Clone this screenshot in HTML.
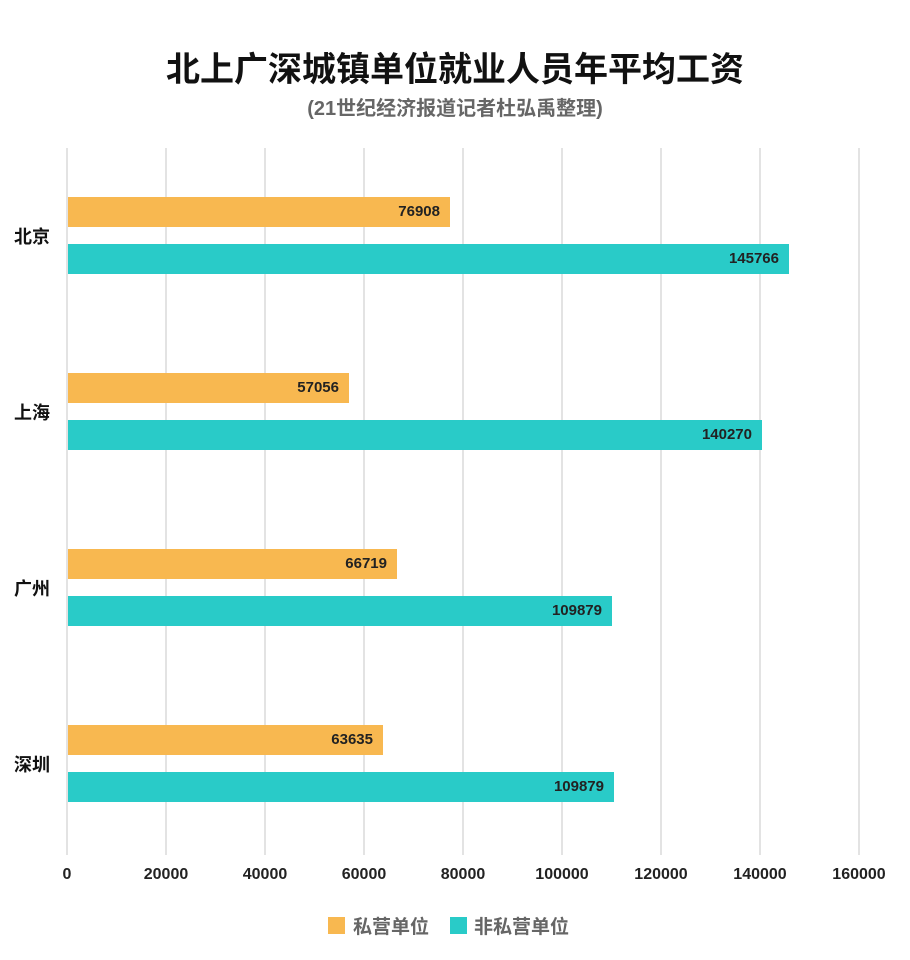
<!DOCTYPE html>
<html><head><meta charset="utf-8"><style>
body{margin:0;width:910px;height:960px;background:#fff;position:relative;overflow:hidden;font-family:"Liberation Sans","Noto Sans CJK SC",sans-serif}
.a{position:absolute}
.g{position:absolute;top:148px;height:707px;width:2px;background:#e3e3e3}
.o{position:absolute;left:68px;height:30px;background:#f8b850}
.t{position:absolute;left:68px;height:30px;background:#29cbc8}
.v{position:absolute;right:10px;top:6px;font-size:15px;font-weight:bold;color:#222}
.c{position:absolute;left:14px;font-size:18px;font-weight:bold;color:#111}
.x{position:absolute;top:866px;width:100px;margin-left:-50px;text-align:center;font-size:16px;font-weight:bold;color:#222}
</style></head><body>
<div class="a" style="left:0;width:910px;top:42px;text-align:center;font-size:34px;font-weight:bold;color:#111">北上广深城镇单位就业人员年平均工资</div>
<div class="a" style="left:0;width:910px;top:92px;text-align:center;font-size:20px;font-weight:bold;color:#666">(21世纪经济报道记者杜弘禹整理)</div>
<div class="g" style="left:66px"></div><div class="g" style="left:165px"></div><div class="g" style="left:264px"></div><div class="g" style="left:363px"></div><div class="g" style="left:462px"></div><div class="g" style="left:561px"></div><div class="g" style="left:660px"></div><div class="g" style="left:759px"></div><div class="g" style="left:858px"></div>
<div class="x" style="left:67px">0</div><div class="x" style="left:166px">20000</div><div class="x" style="left:265px">40000</div><div class="x" style="left:364px">60000</div><div class="x" style="left:463px">80000</div><div class="x" style="left:562px">100000</div><div class="x" style="left:661px">120000</div><div class="x" style="left:760px">140000</div><div class="x" style="left:859px">160000</div>
<div class="c" style="top:223px">北京</div>
<div class="o" style="top:197px;width:382px"><span class="v">76908</span></div>
<div class="t" style="top:244px;width:721px"><span class="v">145766</span></div>
<div class="c" style="top:399px">上海</div>
<div class="o" style="top:373px;width:281px"><span class="v">57056</span></div>
<div class="t" style="top:420px;width:694px"><span class="v">140270</span></div>
<div class="c" style="top:575px">广州</div>
<div class="o" style="top:549px;width:329px"><span class="v">66719</span></div>
<div class="t" style="top:596px;width:544px"><span class="v">109879</span></div>
<div class="c" style="top:751px">深圳</div>
<div class="o" style="top:725px;width:315px"><span class="v">63635</span></div>
<div class="t" style="top:772px;width:546px"><span class="v">109879</span></div>
<div class="a" style="left:328px;top:917px;width:17px;height:17px;background:#f8b850"></div>
<div class="a" style="left:353px;top:912px;font-size:19px;font-weight:bold;color:#666">私营单位</div>
<div class="a" style="left:450px;top:917px;width:17px;height:17px;background:#29cbc8"></div>
<div class="a" style="left:474px;top:912px;font-size:19px;font-weight:bold;color:#666">非私营单位</div>
</body></html>
